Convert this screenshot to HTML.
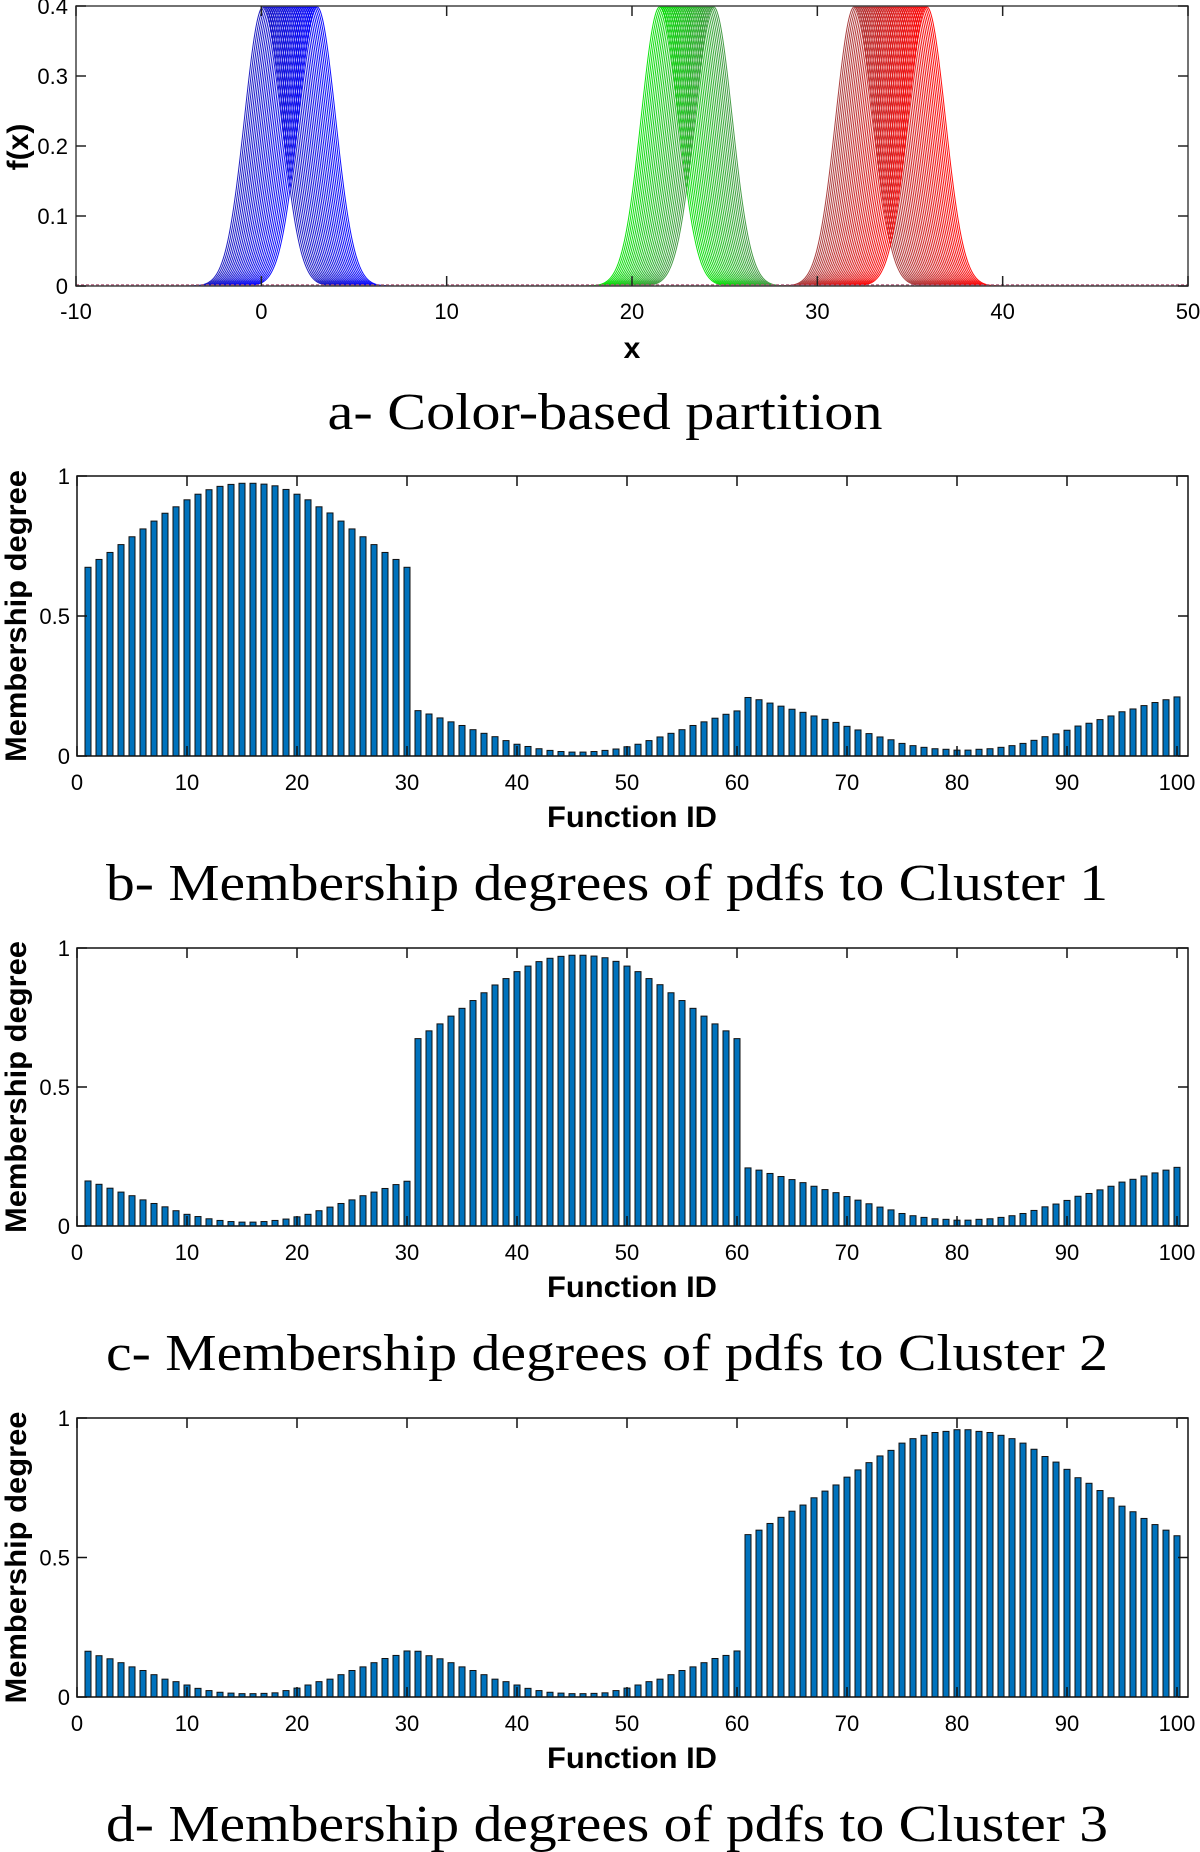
<!DOCTYPE html>
<html>
<head>
<meta charset="utf-8">
<style>
  html,body{margin:0;padding:0;background:#fff;}
  svg{display:block;}
  .tick{font-family:"Liberation Sans",sans-serif;font-size:22px;fill:#000;}
  .axlab{font-family:"Liberation Sans",sans-serif;font-size:30px;font-weight:bold;fill:#000;}
  .cap{font-family:"Liberation Serif",serif;font-size:52px;fill:#000;}
</style>
</head>
<body>
<svg id="fig" width="1200" height="1852" viewBox="0 0 1200 1852" xmlns="http://www.w3.org/2000/svg">
  <defs>
    <clipPath id="clipA"><rect x="76" y="6" width="1112" height="280"/></clipPath>
  </defs>
  <g id="chartA"></g>
  <g id="chartB"></g>
  <g id="chartC"></g>
  <g id="chartD"></g>
</svg>
<script>
// ---------- Chart a data ----------
const blueMeans = [0.1,0.2,0.3,0.4,0.5,0.6,0.7,0.8,0.9,1.0,1.1,1.2,1.3,1.4,1.5,1.6,1.7,1.8,1.9,2.0,2.1,2.2,2.3,2.4,2.5,2.6,2.7,2.8,2.9,3.0];
const greenMeans = [21.5,21.6,21.7,21.8,21.9,22.0,22.1,22.2,22.3,22.4,22.5,22.6,22.7,22.8,22.9,23.0,23.1,23.2,23.3,23.4,23.5,23.6,23.7,23.8,23.9,24.0,24.1,24.2,24.3,24.4];
const redMeans = [32.0,32.1,32.2,32.3,32.4,32.5,32.6,32.7,32.8,32.9,33.0,33.1,33.2,33.3,33.4,33.5,33.6,33.7,33.8,33.9,34.0,34.1,34.2,34.3,34.4,34.5,34.6,34.7,34.8,34.9,35.0,35.1,35.2,35.3,35.4,35.5,35.6,35.7,35.8,35.9];
const pdfSigma = 1.0;
const xTicksA = [-10,0,10,20,30,40,50];
const yTicksA = [0,0.1,0.2,0.3,0.4];

// ---------- Membership data (Function ID 1..100) ----------
const functionIds = [1,2,3,4,5,6,7,8,9,10,11,12,13,14,15,16,17,18,19,20,21,22,23,24,25,26,27,28,29,30,31,32,33,34,35,36,37,38,39,40,41,42,43,44,45,46,47,48,49,50,51,52,53,54,55,56,57,58,59,60,61,62,63,64,65,66,67,68,69,70,71,72,73,74,75,76,77,78,79,80,81,82,83,84,85,86,87,88,89,90,91,92,93,94,95,96,97,98,99,100];
const cluster1Values = [
0.674,0.702,0.727,0.755,0.783,0.811,0.839,0.867,0.890,0.915,0.935,0.951,0.963,0.970,0.974,0.974,0.971,0.965,0.952,0.935,0.915,0.890,0.868,0.839,0.811,0.783,0.755,0.727,0.702,0.674,
0.162,0.150,0.136,0.122,0.109,0.094,0.081,0.069,0.055,0.042,0.034,0.026,0.020,0.016,0.014,0.014,0.016,0.020,0.025,0.033,0.042,0.055,0.068,0.081,0.094,0.109,0.122,0.135,0.149,0.161,
0.209,0.201,0.189,0.178,0.167,0.156,0.143,0.131,0.120,0.106,0.093,0.080,0.068,0.058,0.045,0.037,0.031,0.026,0.024,0.021,0.021,0.024,0.026,0.031,0.037,0.045,0.056,0.069,0.079,0.092,0.107,0.117,0.130,0.143,0.158,0.168,0.180,0.191,0.201,0.211];
const cluster2Values = [
0.162,0.150,0.136,0.122,0.109,0.094,0.081,0.069,0.055,0.042,0.034,0.026,0.020,0.016,0.014,0.014,0.016,0.020,0.025,0.033,0.042,0.055,0.068,0.081,0.094,0.109,0.122,0.135,0.149,0.161,
0.674,0.702,0.727,0.755,0.783,0.811,0.839,0.867,0.890,0.915,0.935,0.951,0.963,0.970,0.974,0.974,0.971,0.965,0.952,0.935,0.915,0.890,0.868,0.839,0.811,0.783,0.755,0.727,0.702,0.674,
0.209,0.201,0.189,0.178,0.167,0.156,0.143,0.131,0.120,0.106,0.093,0.080,0.068,0.058,0.045,0.037,0.031,0.026,0.024,0.021,0.021,0.024,0.026,0.031,0.037,0.045,0.056,0.069,0.079,0.092,0.107,0.117,0.130,0.143,0.158,0.168,0.180,0.191,0.201,0.211];
const cluster3Values = [
0.164,0.148,0.137,0.123,0.108,0.095,0.080,0.064,0.055,0.043,0.031,0.023,0.017,0.014,0.012,0.012,0.013,0.015,0.023,0.032,0.043,0.055,0.064,0.080,0.095,0.108,0.123,0.138,0.149,0.165,
0.164,0.148,0.137,0.123,0.108,0.095,0.080,0.064,0.055,0.043,0.031,0.023,0.017,0.014,0.012,0.012,0.013,0.015,0.023,0.032,0.043,0.055,0.064,0.080,0.095,0.108,0.123,0.138,0.149,0.165,
0.582,0.598,0.622,0.644,0.666,0.688,0.714,0.738,0.760,0.788,0.814,0.840,0.864,0.884,0.910,0.926,0.938,0.948,0.952,0.958,0.958,0.952,0.948,0.938,0.926,0.910,0.888,0.862,0.842,0.816,0.786,0.766,0.740,0.714,0.684,0.664,0.640,0.618,0.598,0.578];
const xTicksBar = [0,10,20,30,40,50,60,70,80,90,100];
const yTicksBar = [0,0.5,1];
const yTickLabelsBar = ["0","0.5","1"];

const NS = "http://www.w3.org/2000/svg";
function mk(tag, attrs, parent){
  const e = document.createElementNS(NS, tag);
  for (const k in attrs) e.setAttribute(k, attrs[k]);
  parent.appendChild(e);
  return e;
}
function txt(parent, str, x, y, cls, anchor){
  const t = mk('text', {x:x, y:y, class:cls, 'text-anchor':anchor||'middle'}, parent);
  t.textContent = str;
  return t;
}

// ---------- Chart a ----------
(function(){
  const g = document.getElementById('chartA');
  const L=76, R=1188, T=6, B=286, x0=-10, x1=50, y1=0.4;
  const sx = v => L + (v - x0) / (x1 - x0) * (R - L);
  const sy = v => B - v / y1 * (B - T);
  const curves = mk('g', {'clip-path':'url(#clipA)'}, g);
  
  
  function drawFamily(means, c0, c1, name){
    const fam = mk('g', {}, curves);
    
    
    means.forEach((mu, i) => {
      const f = means.length > 1 ? i / (means.length - 1) : 0;
      const col = 'rgb(' + Math.round(c0[0]+(c1[0]-c0[0])*f) + ',' + Math.round(c0[1]+(c1[1]-c0[1])*f) + ',' + Math.round(c0[2]+(c1[2]-c0[2])*f) + ')';
      let d = '';
      for (let x = mu - 6; x <= mu + 6.001; x += 0.05) {
        const y = Math.exp(-0.5 * ((x - mu) / pdfSigma) ** 2) / (pdfSigma * Math.sqrt(2 * Math.PI));
        d += (d ? 'L' : 'M') + sx(x).toFixed(2) + ' ' + sy(y).toFixed(2);
      }
      const p = mk('path', {d:d, fill:'none', stroke:col, 'stroke-width':1.0, 'stroke-opacity':0.95}, fam);
      
      
    });
  }
  drawFamily(blueMeans, [20,20,190], [0,0,255], 'blue-pdf-family');
  drawFamily(greenMeans, [0,225,0], [60,150,60], 'green-pdf-family');
  drawFamily(redMeans, [165,55,55], [255,0,0], 'red-pdf-family');
  const base = mk('line', {x1:L, y1:B-1, x2:R, y2:B-1, stroke:'#b05a7a', 'stroke-width':1.5, 'stroke-dasharray':'3 2'}, g);
  
  
  const box = mk('rect', {x:L, y:T, width:R-L, height:B-T, fill:'none', stroke:'#444', 'stroke-width':1.5}, g);
  
  
  xTicksA.forEach(v => {
    const x = sx(v);
    mk('line', {x1:x, y1:B, x2:x, y2:B-10, stroke:'#222', 'stroke-width':1.5}, g);
    mk('line', {x1:x, y1:T, x2:x, y2:T+10, stroke:'#222', 'stroke-width':1.5}, g);
    const t = txt(g, String(v), x, 319, 'tick');
    
    
  });
  yTicksA.forEach(v => {
    const y = sy(v);
    mk('line', {x1:L, y1:y, x2:L+10, y2:y, stroke:'#222', 'stroke-width':1.5}, g);
    mk('line', {x1:R, y1:y, x2:R-10, y2:y, stroke:'#222', 'stroke-width':1.5}, g);
    const t = txt(g, String(v), 68, y + 8, 'tick', 'end');
    
    
  });
  const xl = txt(g, 'x', 632, 358, 'axlab');
  
  
  const yl = txt(g, 'f(x)', 0, 0, 'axlab');
  yl.setAttribute('transform', 'translate(28,147) rotate(-90)');
  
  
  const cap = txt(g, 'a- Color-based partition', 605, 429, 'cap');
  cap.setAttribute('textLength', '555');
  cap.setAttribute('lengthAdjust', 'spacingAndGlyphs');
  
  
})();

// ---------- Bar charts ----------
function drawBars(gid, values, T, B, caption, capName){
  const g = document.getElementById(gid);
  const L=77, R=1188, x0=0, x1=101;
  const sx = v => L + (v - x0) / (x1 - x0) * (R - L);
  const sy = v => B - v * (B - T);
  const bars = mk('g', {}, g);
  
  
  values.forEach((v, i) => {
    const cx = sx(functionIds[i]);
    const r = mk('rect', {x:cx - 3, y:sy(v), width:6, height:B - sy(v), fill:'#0072BD', stroke:'#111', 'stroke-width':1}, bars);
    
    
  });
  const box = mk('rect', {x:L, y:T, width:R-L, height:B-T, fill:'none', stroke:'#111', 'stroke-width':1.5}, g);
  
  
  xTicksBar.forEach(v => {
    const x = sx(v);
    mk('line', {x1:x, y1:B, x2:x, y2:B-10, stroke:'#111', 'stroke-width':1.5}, g);
    mk('line', {x1:x, y1:T, x2:x, y2:T+10, stroke:'#111', 'stroke-width':1.5}, g);
    const t = txt(g, String(v), x, B + 34, 'tick');
    
    
  });
  yTicksBar.forEach((v, i) => {
    const y = sy(v);
    mk('line', {x1:L, y1:y, x2:L+10, y2:y, stroke:'#111', 'stroke-width':1.5}, g);
    mk('line', {x1:R, y1:y, x2:R-10, y2:y, stroke:'#111', 'stroke-width':1.5}, g);
    const t = txt(g, yTickLabelsBar[i], 70, y + 8, 'tick', 'end');
    
    
  });
  const xl = txt(g, 'Function ID', 632, B + 71, 'axlab');
  xl.setAttribute('textLength', '170');
  xl.setAttribute('lengthAdjust', 'spacingAndGlyphs');
  
  
  const yl = txt(g, 'Membership degree', 0, 0, 'axlab');
  yl.setAttribute('textLength', '292');
  yl.setAttribute('lengthAdjust', 'spacingAndGlyphs');
  yl.setAttribute('transform', 'translate(26,' + ((T + B) / 2) + ') rotate(-90)');
  
  
  const cap = txt(g, caption, 607, B + 144, 'cap');
  cap.setAttribute('textLength', '1002');
  cap.setAttribute('lengthAdjust', 'spacingAndGlyphs');
  
  
}
drawBars('chartB', cluster1Values, 476, 756, 'b- Membership degrees of pdfs to Cluster 1', 'caption-b');
drawBars('chartC', cluster2Values, 948, 1226, 'c- Membership degrees of pdfs to Cluster 2', 'caption-c');
drawBars('chartD', cluster3Values, 1418, 1697, 'd- Membership degrees of pdfs to Cluster 3', 'caption-d');
</script>
</body>
</html>
